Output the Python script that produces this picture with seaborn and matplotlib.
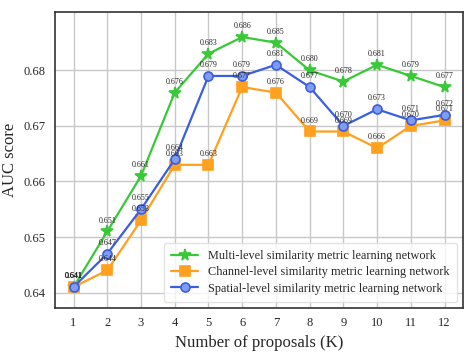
import matplotlib
matplotlib.use("Agg")
import matplotlib.pyplot as plt
import pandas as pd
import seaborn as sns

proposals = [1, 2, 3, 4, 5, 6, 7, 8, 9, 10, 11, 12]
multi_auc = [0.641, 0.651, 0.661, 0.676, 0.683, 0.686, 0.685, 0.680, 0.678, 0.681, 0.679, 0.677]
channel_auc = [0.641, 0.644, 0.653, 0.663, 0.663, 0.677, 0.676, 0.669, 0.669, 0.666, 0.670, 0.671]
spatial_auc = [0.641, 0.647, 0.655, 0.664, 0.679, 0.679, 0.681, 0.677, 0.670, 0.673, 0.671, 0.672]

names = ['Multi-level similarity metric learning network',
         'Channel-level similarity metric learning network',
         'Spatial-level similarity metric learning network']
colors = ['#38c838', '#ffa01e', '#3a5ee0']
markers = ['*', 's', 'o']

sns.set_style("whitegrid")
plt.rcParams['font.family'] = ['Liberation Serif', 'DejaVu Serif']

fig = plt.figure(figsize=(4.74, 3.55), dpi=100)
ax = fig.add_axes([0.116, 0.132, 0.861, 0.834])

for name, vals, c, m in zip(names, [multi_auc, channel_auc, spatial_auc], colors, markers):
    df = pd.DataFrame({'K': proposals, 'AUC': vals})
    ms = 8.5 if m == '*' else 6.5
    mfc = c if m != 'o' else '#7f9cf0'
    sns.lineplot(data=df, x='K', y='AUC', ax=ax, color=c, marker=m, markersize=ms,
                 markerfacecolor=mfc, markeredgecolor=c, markeredgewidth=1.2,
                 linewidth=1.6, label=name)
    for k, v in zip(proposals, vals):
        ax.annotate(f'{v:.3f}', (k, v), textcoords='offset points', xytext=(0, 5),
                    ha='center', va='bottom', fontsize=5.8)

ax.set_xlim(0.45, 12.55)
ax.set_ylim(0.6372, 0.6905)
ax.set_xticks(proposals)
ax.set_yticks([0.64, 0.65, 0.66, 0.67, 0.68])
ax.set_xlabel('Number of proposals (K)', fontsize=12)
ax.set_ylabel('AUC score', fontsize=12)
ax.tick_params(axis='both', labelsize=9, length=3, color='#333333')
ax.grid(True, color='#c8c8c8', linewidth=1.0)
for s in ax.spines.values():
    s.set_color('#333333')
    s.set_linewidth(1.2)

ax.legend(loc='lower right', fontsize=8.8, frameon=True, edgecolor='#dddddd',
          handlelength=2.2, borderpad=0.6, labelspacing=0.35)

plt.savefig('out.png', dpi=100)
